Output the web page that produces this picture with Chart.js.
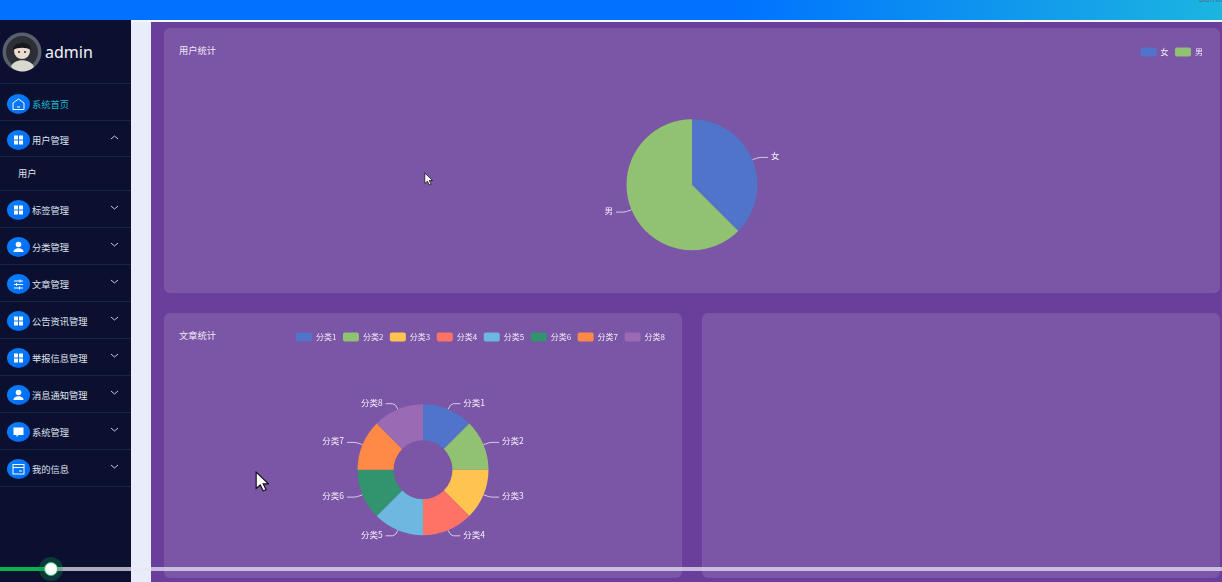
<!DOCTYPE html>
<html lang="zh">
<head>
<meta charset="utf-8">
<script src="https://cdn.jsdelivr.net/npm/chart.js@4"></script>
<style>
html,body{margin:0;padding:0;width:1222px;height:582px;overflow:hidden;background:#6a3f9b;font-family:"Noto Sans CJK SC","Noto Sans",sans-serif}
#top{position:absolute;left:0;top:0;width:1222px;height:20px;background:linear-gradient(90deg,#0072ff 0,#0072ff 60%,#1cb5e0 100%)}
#topuser{position:absolute;left:1199px;top:-7px;font-size:9px;line-height:12px;color:#4d6f90}
#white{position:absolute;left:131px;top:20px;width:1091px;height:2px;background:#f4f6fd}
#strip{position:absolute;left:131px;top:20px;width:20px;height:562px;background:#e9edfb}
#side{position:absolute;left:0;top:20px;width:131px;height:562px;background:#0b1030}
#avatar{position:absolute;left:2px;top:12px}
#name{position:absolute;left:45px;top:21px;font:16px/22px "Noto Sans",sans-serif;color:#f1f3fb}
.line{position:absolute;left:0;width:131px;height:1px;background:#1d2344}
.ico{position:absolute;left:7px;width:23px;height:20px;border-radius:50%;background:linear-gradient(135deg,#0a84ff,#0066f0)}
.ico svg{position:absolute;left:5px;top:4px}
.txt{position:absolute;left:32px;font-size:9.25px;line-height:12px;color:#dfe2ee;white-space:nowrap}
.chev{position:absolute;left:110px}
.card{position:absolute;background:#7b55a6;border-radius:6px}
.title{position:absolute;font-size:9.25px;line-height:12px;color:#f1eaf7;white-space:nowrap}
canvas{position:absolute}
#track{position:absolute;left:0;top:567px;width:1222px;height:4px;background:rgba(235,232,245,.72)}
#done{position:absolute;left:0;top:567px;width:50px;height:4px;background:#0bb04f}
#ring{position:absolute;left:39px;top:557px;width:24px;height:24px;border-radius:50%;background:rgba(12,150,80,.3)}
#knob{position:absolute;left:44px;top:562px;width:12px;height:12px;border-radius:50%;background:#fff;border:1px solid #2fc070}
.cur{position:absolute}
</style>
</head>
<body>
<div id="top"><div id="topuser">admin</div></div>
<div id="side">
  <svg id="avatar" width="40" height="40" viewBox="0 0 40 40">
    <circle cx="20" cy="20" r="19.5" fill="#59606c"/><circle cx="20" cy="20" r="16" fill="#2d2f38"/>
    <path d="M9 35c2-9 20-9 23 0a17 17 0 0 1-23 0z" fill="#d9d9d2"/>
    <circle cx="20" cy="19" r="8" fill="#e9dccf"/><path d="M11 18c0-9 18-10 18 0-5-3-13-3-18 0z" fill="#17171c"/>
    <circle cx="17" cy="20" r="1" fill="#222"/><circle cx="23" cy="20" r="1" fill="#222"/>
  </svg>
  <div id="name">admin</div>
</div>
<div id="strip"></div>
<div id="white"></div>

<div class="card" style="left:164px;top:28px;width:1056px;height:265px"></div>
<div class="card" style="left:164px;top:313px;width:518px;height:265px"></div>
<div class="card" style="left:702px;top:313px;width:518px;height:265px"></div>
<div class="title" style="left:179px;top:44px">用户统计</div>
<div class="title" style="left:179px;top:329px">文章统计</div>
<canvas id="pie" width="1056" height="275" style="left:164px;top:28px;width:1056px;height:275px"></canvas>
<canvas id="donut" width="518" height="275" style="left:164px;top:313px;width:518px;height:275px"></canvas>

<div id="track"></div><div id="done"></div><div id="ring"></div><div id="knob"></div>
<svg class="cur" style="left:424px;top:172px" width="9" height="14" viewBox="0 0 12 18"><path d="M1 1v14l3.5-3 2.5 5 2.500-1-2.500-5h4.500z" fill="#fff" stroke="#222" stroke-width="1.200"/></svg>
<svg class="cur" style="left:255px;top:471px" width="14" height="21" viewBox="0 0 12 18"><path d="M1 1v14l3.500-3 2.500 5 2.500-1-2.500-5h4.500z" fill="#fff" stroke="#111" stroke-width="1"/></svg>

<script>
const genderLabels = ['女', '男'];
const genderValues = [3, 5];
const genderColors = ['#5174cb', '#91c272'];

const categoryLabels = ['分类1', '分类2', '分类3', '分类4', '分类5', '分类6', '分类7', '分类8'];
const categoryValues = [1, 1, 1, 1, 1, 1, 1, 1];
const categoryColors = ['#5174cb', '#91c272', '#ffc44f', '#ff7265', '#6cb8e0', '#31946f', '#ff8a47', '#9a6ab5'];

const menuItems = ['系统首页', '用户管理', '用户', '标签管理', '分类管理', '文章管理', '公告资讯管理', '举报信息管理', '消息通知管理', '系统管理', '我的信息'];
const menuIcons = ['home', 'grid', '', 'grid', 'user', 'tune', 'grid', 'grid', 'user', 'chat', 'cardi'];
const menuCentres = [104, 140, 173, 210, 247, 284, 321, 358, 395, 432, 469];
const menuLines = [83, 120, 156, 190, 227, 264, 301, 338, 375, 412, 449, 486];

const icons = {
  home: '<path d="M6.500 1 1 5v6.500h11V5z" fill="none" stroke="#fff"/><path d="M5 9h3" stroke="#fff"/>',
  grid: '<path d="M2 1.500h4v4H2zM7 1.500h4v4H7zM2 6.500h4v4H2zM7 6.500h4v4H7z" fill="#fff"/>',
  user: '<circle cx="6.500" cy="3.500" r="2.800" fill="#fff"/><path d="M1.500 11c0-5 10-5 10 0z" fill="#fff"/>',
  tune: '<path d="M2 3h9M2 6.500h9M2 10h9" stroke="#fff"/><path d="M8 1.500v3M4.500 5v3M7.500 8.500v3" stroke="#fff"/>',
  chat: '<path d="M1.500 1.500h10v7.500h-5l-2 2v-2h-3z" fill="#fff"/>',
  cardi: '<rect x="1" y="1.500" width="11" height="9.500" fill="none" stroke="#fff"/><path d="M1 4.500h11M7 8h3" stroke="#fff"/>'
};
const side = document.getElementById('side');
let html = '';
menuLines.forEach(y => { html += `<div class="line" style="top:${y - 20}px"></div>`; });
menuItems.forEach((t, i) => {
  const c = menuCentres[i] - 20;
  const ic = menuIcons[i];
  if (ic) html += `<div class="ico" style="top:${c - 10}px"><svg width="13" height="13" viewBox="0 0 13 13">${icons[ic]}</svg></div>`;
  const extra = i === 0 ? 'color:#1fb6c9;' : (ic ? '' : 'left:18px;');
  html += `<div class="txt" style="top:${c - 6}px;${extra}">${t}</div>`;
  if (i > 0 && ic) {
    const d = i === 1 ? 'M1 5l3.500-3 3.500 3' : 'M1 2l3.500 3 3.500-3';
    html += `<svg class="chev" style="top:${c - 6}px" width="9" height="7" viewBox="0 0 9 7"><path d="${d}" fill="none" stroke="#c9cddd"/></svg>`;
  }
});
side.insertAdjacentHTML('beforeend', html);

const leaderLabels = {
  id: 'leaderLabels',
  afterDatasetsDraw(chart) {
    const { ctx } = chart;
    const labels = chart.data.labels;
    chart.getDatasetMeta(0).data.forEach((arc, i) => {
      const p = arc.getProps(['x', 'y', 'startAngle', 'endAngle', 'outerRadius'], true);
      const a = (p.startAngle + p.endAngle) / 2;
      const dir = Math.cos(a) >= 0 ? 1 : -1;
      const x0 = p.x + Math.cos(a) * p.outerRadius, y0 = p.y + Math.sin(a) * p.outerRadius;
      const x1 = p.x + Math.cos(a) * (p.outerRadius + 6), y1 = p.y + Math.sin(a) * (p.outerRadius + 6);
      const x2 = x1 + dir * 10;
      ctx.save();
      ctx.strokeStyle = '#efe6f6';
      ctx.lineWidth = 0.8;
      ctx.beginPath();
      ctx.moveTo(x0, y0);
      ctx.quadraticCurveTo(x1, y1, x1 + dir * 3, y1);
      ctx.lineTo(x2, y1);
      ctx.stroke();
      ctx.fillStyle = '#f6f0fa';
      ctx.font = '8.500px "Noto Sans CJK SC"';
      ctx.textBaseline = 'middle';
      ctx.textAlign = dir > 0 ? 'left' : 'right';
      ctx.fillText(labels[i], x2 + dir * 3, y1 - 1.2);
      ctx.restore();
    });
  }
};

function makeChart(id, labels, values, colors, cutout, pad) {
  return new Chart(document.getElementById(id), {
    type: 'doughnut',
    data: { labels, datasets: [{ data: values, backgroundColor: colors, borderWidth: 0, radius: 65.5, cutout }] },
    options: {
      responsive: false,
      animation: false,
      events: [],
      layout: { padding: { top: 13, right: pad, bottom: 0, left: pad } },
      plugins: {
        tooltip: { enabled: false },
        legend: {
          position: 'top',
          align: 'end',
          labels: {
            boxWidth: 16, boxHeight: 9, padding: 6.5, color: '#f3edf8',
            useBorderRadius: true, borderRadius: 2,
            font: { size: 8, family: '"Noto Sans CJK SC"' }
          }
        }
      }
    },
    plugins: [leaderLabels]
  });
}
makeChart('pie', genderLabels, genderValues, genderColors, 0, 10.5);
makeChart('donut', categoryLabels, categoryValues, categoryColors, '45%', 10.5);
</script>
</body>
</html>
